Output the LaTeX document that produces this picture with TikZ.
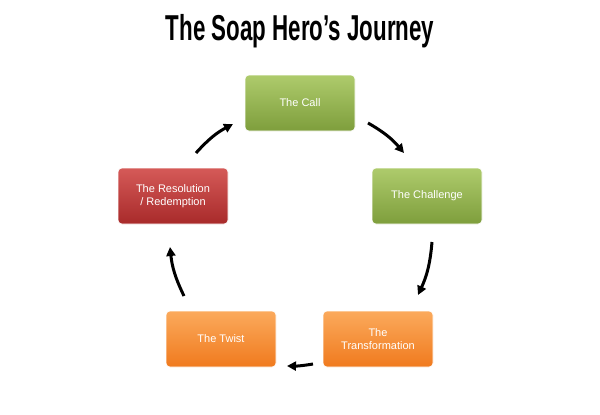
\documentclass[tikz,border=0pt]{standalone}
\usepackage{fontspec}
\setmainfont{Liberation Sans}
\newfontfamily\titlefont[FakeStretch=0.62]{Liberation Sans Bold}
\usetikzlibrary{arrows.meta}
\definecolor{grtop}{HTML}{AECB6C}\definecolor{grbot}{HTML}{7E9E3C}
\definecolor{ortop}{HTML}{FBAA5C}\definecolor{orbot}{HTML}{F07A1E}
\definecolor{rdtop}{HTML}{D55A58}\definecolor{rdbot}{HTML}{A82A2A}
\tikzset{
  stagebox/.style={rounded corners=4pt, minimum width=110pt, minimum height=56pt,
    text=white, font=\fontsize{11}{13}\selectfont, align=center, draw=white, line width=0.6pt},
  greenbox/.style={stagebox, top color=grtop, bottom color=grbot},
  orangebox/.style={stagebox, top color=ortop, bottom color=orbot},
  redbox/.style={stagebox, top color=rdtop, bottom color=rdbot},
  turn/.style={-{Triangle[length=9pt,width=9pt]}, line width=3pt, black}
}
\begin{document}
\begin{tikzpicture}[x=1pt,y=-1pt]
  \useasboundingbox[fill=white] (0,0) rectangle (600,415);

  % title
  \node (title) at (300,31) {\titlefont\fontsize{36}{40}\selectfont The Soap Hero’s Journey};

  % stages
  \node[greenbox] (call) at (300,103) {The Call};
  \node[greenbox] (challenge) at (427,196) {The Challenge};
  \node[orangebox] (transform) at (378,339) {The\\Transformation};
  \node[orangebox] (twist) at (221,339) {The Twist};
  \node[redbox] (resolution) at (173,196) {The Resolution\\/ Redemption};

  % arrows
  \draw[turn] (368,123) to[bend left=10] (404,153);
  \draw[turn] (432,242) to[bend left=10] (418,295);
  \draw[turn] (313,364) to[bend left=5] (287,366);
  \draw[turn] (184,296) to[bend left=10] (170,247);
  \draw[turn] (196,153) to[bend left=10] (233,124);
\end{tikzpicture}
\end{document}
